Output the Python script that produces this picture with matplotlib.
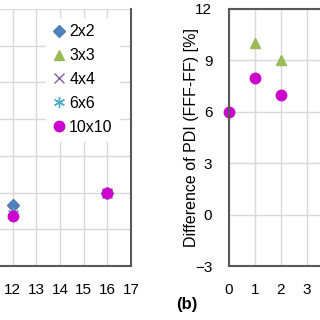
import matplotlib.pyplot as plt

plt.rcParams['font.family'] = ['Liberation Sans', 'DejaVu Sans']

# panel (a) - only the right part is visible
a_x = [12, 16]
a_2x2 = [0.83, 1.0]
a_4x4 = [0.75, 1.0]
a_6x6 = [0.72, 1.0]
a_10x10 = [0.68, 1.0]

# panel (b)
b_x3 = [1, 2]
b_3x3 = [10, 9]
b_x10 = [0, 1, 2]
b_10x10 = [6, 8, 7]

labels = ['2x2', '3x3', '4x4', '6x6', '10x10']
colors = ['#4F81BD', '#9BBB59', '#8064A2', '#4BACC6', '#CC00CC']

spine_c = '#595959'
grid_c = '#D9D9D9'

fig = plt.figure(figsize=(3.2, 3.2), dpi=100)
W = 320.0

ax1 = fig.add_axes([-58.6 / W, 54 / W, 189.6 / W, 257 / W])
ax2 = fig.add_axes([229 / W, 54 / W, 155.4 / W, 257 / W])

for ax in (ax1, ax2):
    ax.grid(True, which='both', color=grid_c, lw=1.0)
    ax.set_axisbelow(True)
    for s in ax.spines.values():
        s.set_color(spine_c)
        s.set_linewidth(1.5)
    ax.tick_params(which='both', length=0, labelsize=11, pad=12)

ax1.spines['top'].set_visible(False)
ax1.set_xlim(9, 17)
ax1.set_ylim(0, 3.5)
ax1.set_xticks(range(12, 18))
ax1.set_xticks([9, 10, 11], minor=True)
ax1.set_yticks([i * 0.5 for i in range(8)])
ax1.set_yticklabels([])

ax1.plot(a_x, a_2x2, 'D', color=colors[0], ms=6, label=labels[0], clip_on=False)
ax1.plot([], [], '^', color=colors[1], ms=7, label=labels[1])
ax1.plot(a_x, a_4x4, 'x', color=colors[2], ms=7, mew=1, label=labels[2], clip_on=False)
ax1.plot(a_x, a_6x6, marker=(6, 2, 0), ls='none', color=colors[3], ms=8, mew=1,
         label=labels[3], clip_on=False)
ax1.plot(a_x, a_10x10, 'o', color=colors[4], ms=7.5, label=labels[4], clip_on=False)

leg = ax1.legend(loc='upper left', bbox_to_anchor=(46 / W, 1 - 18 / W),
                 bbox_transform=fig.transFigure, fontsize=11.5,
                 handlelength=0.8, handletextpad=0.25, labelspacing=0.55,
                 borderpad=0.4, borderaxespad=0, fancybox=False)
leg.get_frame().set_edgecolor('white')
leg.get_frame().set_facecolor('white')
leg.get_frame().set_alpha(1)

ax2.set_xlim(0, 6)
ax2.set_ylim(-3, 12)
ax2.set_xticks(range(0, 4))
ax2.set_xticks([4, 5, 6], minor=True)
ax2.set_yticks(range(-3, 13, 3))
ax2.plot(b_x3, b_3x3, '^', color=colors[1], ms=7, clip_on=False)
ax2.plot(b_x10, b_10x10, 'o', color=colors[4], ms=7.5, clip_on=False)
ax2.set_ylabel('Difference of PDI (FFF-FF) [%]', fontsize=11.5)
ax2.yaxis.set_label_coords(-0.195, 0.5)

fig.text(187 / W, 1 - 304 / W, '(b)', fontsize=12, fontweight='bold',
         ha='center', va='center')

fig.savefig('out.png', dpi=100)
